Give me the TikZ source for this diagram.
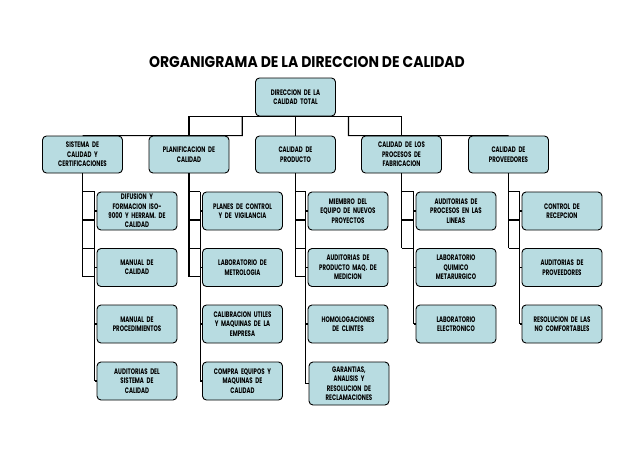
\documentclass[tikz,border=0pt]{standalone}
\usepackage{fontspec}
\setmainfont{Poppins}[FakeStretch=0.68]
\usetikzlibrary{calc}
\definecolor{boxfill}{RGB}{184,220,225}
\tikzset{
  box/.style={draw=black, line width=0.9pt, fill=boxfill, rounded corners=4pt,
    minimum width=79pt, minimum height=38pt, align=center, inner sep=1pt,
    font=\fontsize{8}{9.4}\selectfont\bfseries, text width=78pt},
  conn/.style={draw=black, line width=1.1pt},
}
\begin{document}
\begin{tikzpicture}[x=1pt,y=-1pt]
\useasboundingbox (0,0) rectangle (638,451);
\node[font=\fontsize{15.5}{17}\selectfont\bfseries] (title) at (307,62) {\addfontfeature{FakeStretch=0.9}ORGANIGRAMA DE LA DIRECCION DE CALIDAD};
\node[box] (top) at (295.5,97) {DIRECCION DE LA\\CALIDAD TOTAL};
% level 2
\node[box, minimum height=37pt] (p1) at (82.5,154.5) {SISTEMA DE\\CALIDAD Y\\CERTIFICACIONES};
\node[box, minimum height=37pt] (p2) at (189,154.5) {PLANIFICACION DE\\CALIDAD};
\node[box, minimum height=37pt] (p3) at (295.5,154.5) {CALIDAD DE\\PRODUCTO};
\node[box, minimum height=37pt] (p4) at (401.5,154.5) {CALIDAD DE LOS\\PROCESOS DE\\FABRICACION};
\node[box, minimum height=37pt] (p5) at (508.5,154.5) {CALIDAD DE\\PROVEEDORES};
% column 1
\node[box] (c11) at (137,211) {DIFUSION Y\\FORMACION ISO-\\9000 Y HERRAM. DE\\CALIDAD};
\node[box] (c12) at (137,267.5) {MANUAL DE\\CALIDAD};
\node[box] (c13) at (137,324) {MANUAL DE\\PROCEDIMIENTOS};
\node[box] (c14) at (137,381) {AUDITORIAS DEL\\SISTEMA DE\\CALIDAD};
% column 2
\node[box] (c21) at (242.5,211) {PLANES DE CONTROL\\Y DE VIGILANCIA};
\node[box] (c22) at (242.5,267.5) {LABORATORIO DE\\METROLOGIA};
\node[box] (c23) at (242.5,324) {CALIBRACION UTILES\\Y MAQUINAS DE LA\\EMPRESA};
\node[box] (c24) at (242.5,381) {COMPRA EQUIPOS Y\\MAQUINAS DE\\CALIDAD};
% column 3
\node[box] (c31) at (348,211) {MIEMBRO DEL\\EQUIPO DE NUEVOS\\PROYECTOS};
\node[box] (c32) at (348,267.5) {AUDITORIAS DE\\PRODUCTO MAQ. DE\\MEDICION};
\node[box] (c33) at (348,324) {HOMOLOGACIONES\\DE CLINTES};
\node[box, minimum height=43pt] (c34) at (349,383.5) {GARANTIAS,\\ANALISIS Y\\RESOLUCION DE\\RECLAMACIONES};
% column 4
\node[box] (c41) at (456,211) {AUDITORIAS DE\\PROCESOS EN LAS\\LINEAS};
\node[box] (c42) at (456,267.5) {LABORATORIO\\QUIMICO\\METARURGICO};
\node[box] (c43) at (456,324) {LABORATORIO\\ELECTRONICO};
% column 5
\node[box] (c51) at (562,211) {CONTROL DE\\RECEPCION};
\node[box] (c52) at (562,267.5) {AUDITORIAS DE\\PROVEEDORES};
\node[box] (c53) at (562,324) {RESOLUCION DE LAS\\NO COMFORTABLES};
% top connectors
\coordinate (m23) at ($(p2.north)!0.5!(p3.north)$);
\coordinate (m34) at ($(p3.north)!0.5!(p4.north)$);
\draw[conn] (p2.north) -- (p2.north |- top.south) -- (p4.north |- top.south) -- (p4.north);
\draw[conn] (top.south) -- (p3.north);
\draw[conn] (p1.north) -- (m23) -- (m23 |- top.south);
\draw[conn] (p5.north) -- (m34) -- (m34 |- top.south);
% ladders
\foreach \p/\a/\z/\n/\kids in {p1/c11/c14/3/{c11,c12,c13,c14}, p2/c21/c24/3/{c21,c22,c23,c24}, p3/c31/c34/3/{c31,c32,c33,c34}, p4/c41/c43/2/{c41,c42,c43}, p5/c51/c53/2/{c51,c52,c53}}{
  \coordinate (rx) at ($(\a.west)+(-2,0)$);
  \coordinate (last) at ($(\p.south |- \a.north)+(0,{\n*28.4})$);
  \draw[conn] (\p.south) -- (last);
  \foreach \k in {0,...,\n}{
    \draw[conn] ($(\p.south |- \a.north)+(0,{\k*28.4})$) -- ($(rx |- \a.north)+(0,{\k*28.4})$);
  }
  \draw[conn] (rx |- \a.north) -- (rx |- \z.west);
  \foreach \c in \kids {
    \draw[conn] (rx |- \c.west) -- (\c.west);
  }
}
\end{tikzpicture}
\end{document}
